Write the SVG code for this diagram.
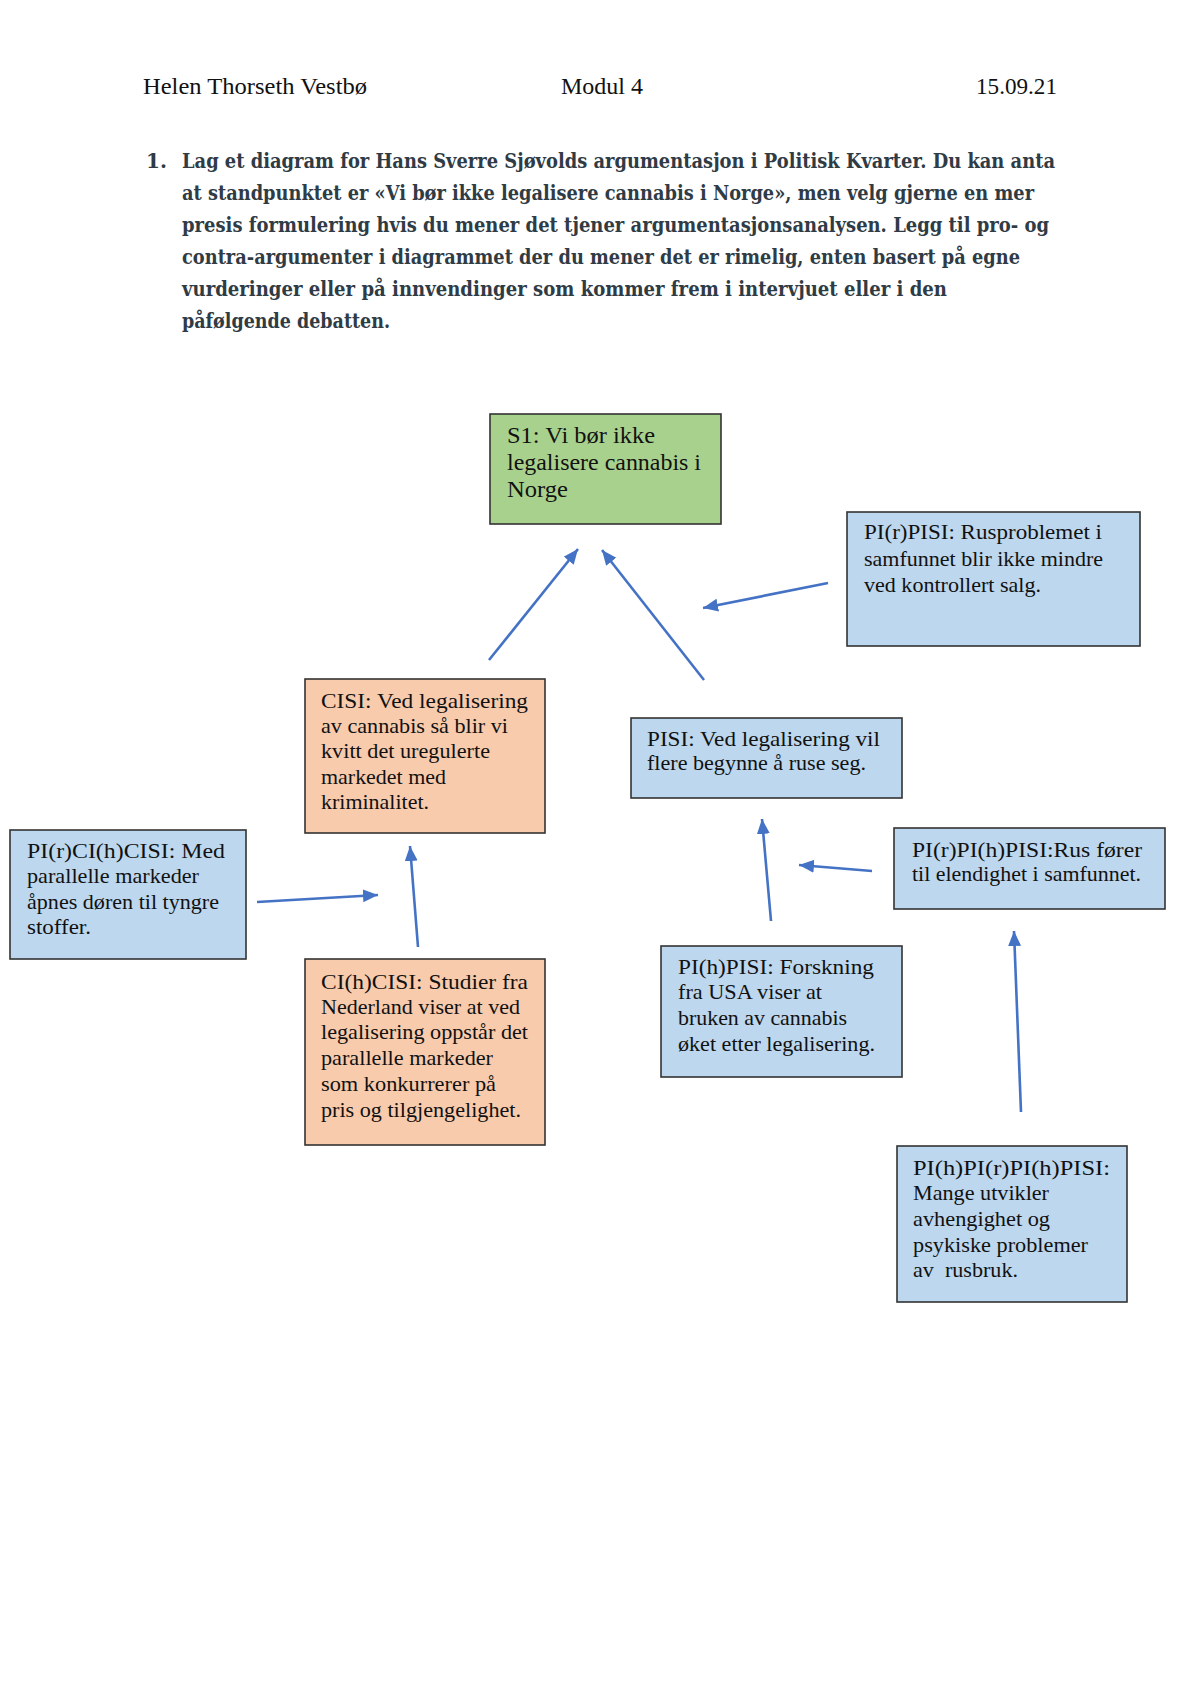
<svg xmlns="http://www.w3.org/2000/svg" width="1200" height="1698" viewBox="0 0 1200 1698">
  <defs>
    <style>
      .hdr { font-family: "Liberation Serif", "Times New Roman", serif; font-size: 23px; fill: #111; }
      .par { font-family: "DejaVu Serif", "Liberation Serif", serif; font-weight: bold; font-size: 20px; fill: #2f3b45; }
      .bx { stroke: #333; stroke-width: 1.6; }
      .green { fill: #a9d18e; }
      .orange { fill: #f8cbad; }
      .blue { fill: #bdd7ee; }
      .t { font-family: "Liberation Serif", "Times New Roman", serif; font-size: 21.5px; fill: #111; }
      .t1 { font-family: "Liberation Serif", "Times New Roman", serif; font-size: 23.5px; fill: #111; }
      .arr { stroke: #4472c4; stroke-width: 2.6; fill: none; marker-end: url(#ah); }
    </style>
    <marker id="ah" markerUnits="userSpaceOnUse" markerWidth="17" markerHeight="14" refX="15" refY="6.5" orient="auto">
      <path d="M0,0 L15,6.5 L0,13 Z" fill="#4472c4"/>
    </marker>
  </defs>
  <rect width="1200" height="1698" fill="#ffffff"/>

  <g id="header">
    <text class="hdr" x="143" y="94" textLength="224" lengthAdjust="spacingAndGlyphs">Helen Thorseth Vestbø</text>
    <text class="hdr" x="561" y="94" textLength="82" lengthAdjust="spacingAndGlyphs">Modul 4</text>
    <text class="hdr" x="976" y="94" textLength="81" lengthAdjust="spacingAndGlyphs">15.09.21</text>
  </g>

  <g id="task">
    <text class="par" x="146" y="168">1.</text>
    <text class="par" x="182" y="168" textLength="873" lengthAdjust="spacingAndGlyphs">Lag et diagram for Hans Sverre Sjøvolds argumentasjon i Politisk Kvarter. Du kan anta</text>
    <text class="par" x="182" y="200" textLength="852" lengthAdjust="spacingAndGlyphs">at standpunktet er «Vi bør ikke legalisere cannabis i Norge», men velg gjerne en mer</text>
    <text class="par" x="182" y="232" textLength="867" lengthAdjust="spacingAndGlyphs">presis formulering hvis du mener det tjener argumentasjonsanalysen.  Legg til pro- og</text>
    <text class="par" x="182" y="264" textLength="838" lengthAdjust="spacingAndGlyphs">contra-argumenter i diagrammet der du mener det er rimelig, enten basert på egne</text>
    <text class="par" x="182" y="296" textLength="765" lengthAdjust="spacingAndGlyphs">vurderinger eller på innvendinger som kommer frem i intervjuet eller i den</text>
    <text class="par" x="182" y="328" textLength="208" lengthAdjust="spacingAndGlyphs">påfølgende debatten.</text>
  </g>

  <g id="connectors">
    <line class="arr" x1="489" y1="660" x2="578" y2="549"/>
    <line class="arr" x1="704" y1="680" x2="602" y2="550"/>
    <line class="arr" x1="828" y1="583" x2="703" y2="608"/>
    <line class="arr" x1="257" y1="902" x2="378" y2="895"/>
    <line class="arr" x1="418" y1="947" x2="410" y2="846"/>
    <line class="arr" x1="771" y1="921" x2="762" y2="819"/>
    <line class="arr" x1="872" y1="871" x2="799" y2="865"/>
    <line class="arr" x1="1021" y1="1112" x2="1014" y2="931"/>
  </g>

  <g id="S1">
    <rect class="bx green" x="490" y="414" width="231" height="110"/>
    <text class="t1" x="507" y="443" textLength="148" lengthAdjust="spacingAndGlyphs">S1: Vi bør ikke</text>
    <text class="t1" x="507" y="470" textLength="194" lengthAdjust="spacingAndGlyphs">legalisere cannabis i</text>
    <text class="t1" x="507" y="497" textLength="61" lengthAdjust="spacingAndGlyphs">Norge</text>
  </g>

  <g id="PIrPISI">
    <rect class="bx blue" x="847" y="512" width="293" height="134"/>
    <text class="t" x="864" y="539" textLength="238" lengthAdjust="spacingAndGlyphs">PI(r)PISI: Rusproblemet i</text>
    <text class="t" x="864" y="566" textLength="239" lengthAdjust="spacingAndGlyphs">samfunnet blir ikke mindre</text>
    <text class="t" x="864" y="592" textLength="177" lengthAdjust="spacingAndGlyphs">ved kontrollert salg.</text>
  </g>

  <g id="CISI">
    <rect class="bx orange" x="305" y="679" width="240" height="154"/>
    <text class="t" x="321" y="708" textLength="207" lengthAdjust="spacingAndGlyphs">CISI: Ved legalisering</text>
    <text class="t" x="321" y="733" textLength="187" lengthAdjust="spacingAndGlyphs">av cannabis så blir vi</text>
    <text class="t" x="321" y="758" textLength="169" lengthAdjust="spacingAndGlyphs">kvitt det uregulerte</text>
    <text class="t" x="321" y="784" textLength="125" lengthAdjust="spacingAndGlyphs">markedet med</text>
    <text class="t" x="321" y="809" textLength="108" lengthAdjust="spacingAndGlyphs">kriminalitet.</text>
  </g>

  <g id="PISI">
    <rect class="bx blue" x="631" y="718" width="271" height="80"/>
    <text class="t" x="647" y="746" textLength="233" lengthAdjust="spacingAndGlyphs">PISI: Ved legalisering vil</text>
    <text class="t" x="647" y="770" textLength="219" lengthAdjust="spacingAndGlyphs">flere begynne å ruse seg.</text>
  </g>

  <g id="PIrCIhCISI">
    <rect class="bx blue" x="10" y="830" width="236" height="129"/>
    <text class="t" x="27" y="858" textLength="198" lengthAdjust="spacingAndGlyphs">PI(r)CI(h)CISI: Med</text>
    <text class="t" x="27" y="883" textLength="172" lengthAdjust="spacingAndGlyphs">parallelle markeder</text>
    <text class="t" x="27" y="909" textLength="192" lengthAdjust="spacingAndGlyphs">åpnes døren til tyngre</text>
    <text class="t" x="27" y="934" textLength="64" lengthAdjust="spacingAndGlyphs">stoffer.</text>
  </g>

  <g id="PIrPIhPISI">
    <rect class="bx blue" x="894" y="828" width="271" height="81"/>
    <text class="t" x="912" y="857" textLength="230" lengthAdjust="spacingAndGlyphs">PI(r)PI(h)PISI:Rus fører</text>
    <text class="t" x="912" y="881" textLength="229" lengthAdjust="spacingAndGlyphs">til elendighet i samfunnet.</text>
  </g>

  <g id="PIhPISI">
    <rect class="bx blue" x="661" y="946" width="241" height="131"/>
    <text class="t" x="678" y="974" textLength="196" lengthAdjust="spacingAndGlyphs">PI(h)PISI: Forskning</text>
    <text class="t" x="678" y="999" textLength="144" lengthAdjust="spacingAndGlyphs">fra USA viser at</text>
    <text class="t" x="678" y="1025" textLength="169" lengthAdjust="spacingAndGlyphs">bruken av cannabis</text>
    <text class="t" x="678" y="1051" textLength="197" lengthAdjust="spacingAndGlyphs">øket etter legalisering.</text>
  </g>

  <g id="CIhCISI">
    <rect class="bx orange" x="305" y="959" width="240" height="186"/>
    <text class="t" x="321" y="989" textLength="207" lengthAdjust="spacingAndGlyphs">CI(h)CISI: Studier fra</text>
    <text class="t" x="321" y="1014" textLength="199" lengthAdjust="spacingAndGlyphs">Nederland viser at ved</text>
    <text class="t" x="321" y="1039" textLength="207" lengthAdjust="spacingAndGlyphs">legalisering oppstår det</text>
    <text class="t" x="321" y="1065" textLength="172" lengthAdjust="spacingAndGlyphs">parallelle markeder</text>
    <text class="t" x="321" y="1091" textLength="175" lengthAdjust="spacingAndGlyphs">som konkurrerer på</text>
    <text class="t" x="321" y="1117" textLength="200" lengthAdjust="spacingAndGlyphs">pris og tilgjengelighet.</text>
  </g>

  <g id="PIhPIrPIhPISI">
    <rect class="bx blue" x="897" y="1146" width="230" height="156"/>
    <text class="t" x="913" y="1175" textLength="197" lengthAdjust="spacingAndGlyphs">PI(h)PI(r)PI(h)PISI:</text>
    <text class="t" x="913" y="1200" textLength="136" lengthAdjust="spacingAndGlyphs">Mange utvikler</text>
    <text class="t" x="913" y="1226" textLength="137" lengthAdjust="spacingAndGlyphs">avhengighet og</text>
    <text class="t" x="913" y="1252" textLength="175" lengthAdjust="spacingAndGlyphs">psykiske problemer</text>
    <text class="t" x="913" y="1277" textLength="105" lengthAdjust="spacingAndGlyphs" xml:space="preserve">av  rusbruk.</text>
  </g>
</svg>
